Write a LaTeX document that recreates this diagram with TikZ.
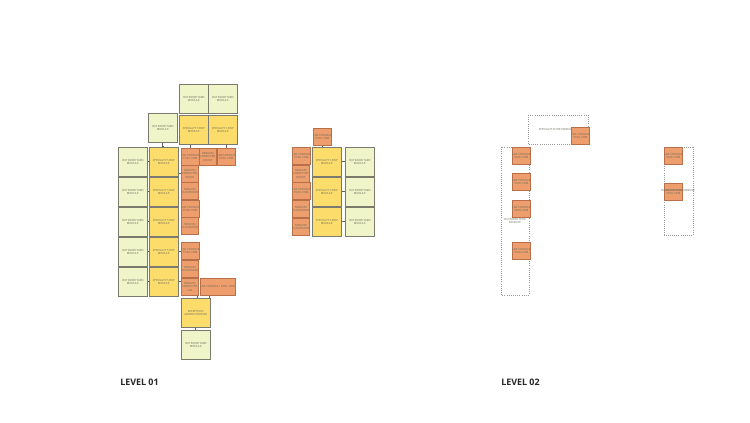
\documentclass[tikz,border=0pt]{standalone}
\usepackage{fontspec}
\setmainfont{Open Sans}
\definecolor{gfill}{HTML}{F0F5C9}
\definecolor{yfill}{HTML}{FCDD6C}
\definecolor{ofill}{HTML}{EE9E6C}
\definecolor{bord}{HTML}{7A7A6E}
\definecolor{obord}{HTML}{B8704A}
\definecolor{txt}{HTML}{6A6A5A}
\begin{document}
\begin{tikzpicture}[x=0.75pt,y=-0.75pt,
  box/.style={anchor=north west,inner sep=0pt,align=center,draw,line width=0.45pt,
    font=\fontsize{2.1pt}{2.6pt}\selectfont,text=txt},
  gm/.style={box,fill=gfill,draw=bord,minimum width=21.75pt,minimum height=21.75pt},
  ym/.style={box,fill=yfill,draw=bord,minimum width=21.75pt,minimum height=21.75pt},
  om/.style={box,fill=ofill,draw=obord,minimum width=12.75pt,minimum height=12.75pt},
  owide/.style={box,fill=ofill,draw=obord,minimum width=25.5pt,minimum height=12.75pt},
  zone/.style={draw=gray!80,densely dotted,line width=0.6pt},
  conn/.style={draw=bord!80!black,line width=0.5pt},
  lbl/.style={font=\fontsize{2.1pt}{2.6pt}\selectfont,text=txt,align=center,inner sep=0pt},
  lvl/.style={anchor=west,font=\bfseries\fontsize{6.7pt}{8pt}\selectfont,text=black!85,inner sep=0pt}]
\useasboundingbox[fill=white] (0,0) rectangle (750,423);

% ---------------- LEVEL 01 ----------------
\node[gm] at (179,84) (g1) {OUTDOOR YARD\\MODULE};
\node[gm] at (208,84) (g2) {OUTDOOR YARD\\MODULE};
\node[ym] at (179,115) (y1) {SPECIALTY SHOP\\MODULE};
\node[ym] at (208,115) (y2) {SPECIALTY SHOP\\MODULE};
\node[gm] at (148,113) (g3) {OUTDOOR YARD\\MODULE};

\foreach \i/\yy in {1/147,2/177,3/207,4/237,5/267}{
  \node[gm] at (118,\yy) (lg\i) {OUTDOOR YARD\\MODULE};
  \node[ym] at (149,\yy) (ly\i) {SPECIALTY SHOP\\MODULE};
  \draw[conn] (lg\i.east) -- (ly\i.west);
}

\node[om] at (181,148) (ot1) {LAB STORAGE\\TOOL CRIB};
\node[om] at (199,148) (ot2) {MEDIUM\\COMPUTER\\ROOM};
\node[om] at (217,148) (ot3) {LAB STORAGE\\TOOL CRIB};
\node[om] at (181,165) (oc1) {MEDIUM\\COMPUTER\\ROOM};
\node[om] at (181,182) (oc2) {MEDIUM\\CLASSROOM};
\node[om] at (181,200) (oc3) {LAB STORAGE\\TOOL CRIB};
\node[om] at (181,217) (oc4) {MEDIUM\\CLASSROOM};
\node[om] at (181,242) (oc5) {LAB STORAGE\\TOOL CRIB};
\node[om] at (181,260) (oc6) {MEDIUM\\CLASSROOM};
\node[om] at (181,278) (oc7) {MEDIUM\\COMPUTER\\LAB};
\node[owide] at (200,278) (ow) {LAB STORAGE / TOOL CRIB};
\node[ym] at (181,298) (rec) {RECEPTION/\\ADMINISTRATION};
\node[gm] at (181,330) (g4) {OUTDOOR YARD\\MODULE};

\draw[conn] (ot1.north) -- (ot1.north |- y1.south);
\draw[conn] (ot3.north) -- (ot3.north |- y2.south);
\draw[conn] (g3.south) -- (g3.south |- ly1.north);
\fill[bord!70!black] ([yshift=-0.3pt]ly1.north -| g3.south) ++(-0.9pt,0) rectangle ++(1.8pt,1.3pt);
\draw[conn] (ly4.east) -- (ly4.east -| oc5.west);
\draw[conn] (ly5.east) -- (ly5.east -| oc7.west);
\draw[conn] (ly1.east |- oc1.west) -- (oc1.west);
\draw[conn] ([xshift=6pt]oc7.south) -- ([xshift=6pt]oc7.south |- rec.north);
\draw[conn] ([xshift=-6pt]ow.south) -- ([xshift=-6pt]ow.south |- rec.north);
\draw[conn] (rec.south) -- (g4.north);

% ---------------- middle cluster ----------------
\node[om] at (313,128) (mo0) {LAB STORAGE\\TOOL CRIB};
\node[om] at (292,147) (mo1) {LAB STORAGE\\TOOL CRIB};
\node[om] at (292,165) (mo2) {MEDIUM\\COMPUTER\\ROOM};
\node[om] at (292,182) (mo3) {LAB STORAGE\\TOOL CRIB};
\node[om] at (292,200) (mo4) {MEDIUM\\CLASSROOM};
\node[om] at (292,218) (mo5) {MEDIUM\\CLASSROOM};
\foreach \i/\yy in {1/147,2/177,3/207}{
  \node[ym] at (312,\yy) (my\i) {SPECIALTY SHOP\\MODULE};
  \node[gm] at (345,\yy) (mg\i) {OUTDOOR YARD\\MODULE};
  \draw[conn] (my\i.east) -- (mg\i.west);
}
\draw[conn] (mo0.south) -- (mo0.south |- my1.north);

% ---------------- LEVEL 02 ----------------
\draw[zone] (528,115) rectangle (588,144);
\node[lbl] at (556,130) (lA) {SPECIALTY SHOP MODULE};
\node[om] at (571,127) (ra1) {LAB STORAGE\\TOOL CRIB};

\draw[zone] (501,147) rectangle (529,295);
\node[om] at (512,147) (rb1) {LAB STORAGE\\TOOL CRIB};
\node[om] at (512,173) (rb2) {LAB STORAGE\\TOOL CRIB};
\node[om] at (512,200) (rb3) {LAB STORAGE\\TOOL CRIB};
\node[om] at (512,242) (rb4) {LAB STORAGE\\TOOL CRIB};
\node[lbl] at (515,221) (lB) {OUTDOOR YARD\\MODULE};

\draw[zone] (664,147) rectangle (693,235);
\node[om] at (664,147) (rc1) {LAB STORAGE\\TOOL CRIB};
\node[om] at (664,183) (rc2) {LAB STORAGE\\TOOL CRIB};
\node[lbl] at (678,191) (lC) {OUTDOOR YARD MODULE};

\node[lvl] at (120,382) (lv1) {LEVEL 01};
\node[lvl] at (501,382) (lv2) {LEVEL 02};
\end{tikzpicture}
\end{document}
